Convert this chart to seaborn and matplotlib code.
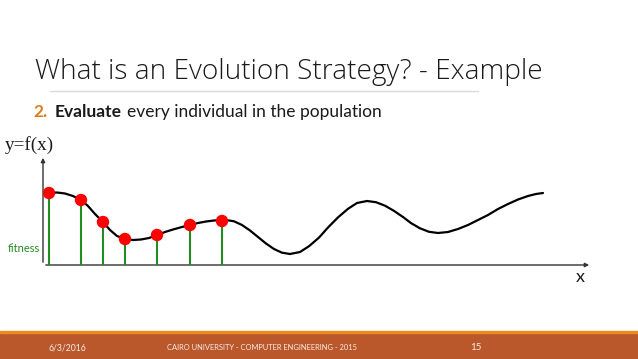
import numpy as np
import pandas as pd
import matplotlib
matplotlib.use("Agg")
import matplotlib.pyplot as plt
from matplotlib.patches import Rectangle
import seaborn as sns

# fitness curve (x from the y axis, y above the x axis)
curve_x = [6, 14, 22, 30, 38, 45, 52, 60, 67, 74, 82, 90, 98, 106, 114, 122, 130,
           139, 147, 155, 163, 171, 179, 183, 191, 199, 207, 215, 223, 231, 239,
           247, 257, 266, 276, 285, 295, 305, 314, 324, 333, 342, 351, 360, 368,
           377, 386, 395, 405, 415, 425, 435, 445, 455, 465, 475, 485, 493, 500]
curve_y = [72, 72.5, 71.5, 69, 65, 59, 51, 43, 35, 29, 26, 25, 25.5, 27, 30, 33, 35.5,
           38, 40, 42, 43.5, 44.5, 45, 45, 43.7, 40, 34.5, 28, 21.5, 16, 12.3,
           11, 13, 18.8, 27.4, 37.5, 47.6, 56.2, 62, 64, 62.8, 59.3, 54.1, 48, 41.9,
           36.7, 33.2, 32, 33, 36, 40, 45, 50, 56, 61, 65.5, 69, 71, 72]

# individuals of the population
ind_x = [6, 38, 60, 82, 114, 147, 179]
ind_y = [72, 65, 43, 26, 30, 40, 44]

W, H = 638, 359
sns.set_theme(style="white")
plt.rcParams['font.family'] = ['Lato', 'DejaVu Sans']

fig = plt.figure(figsize=(W / 100, H / 100), dpi=100)
fig.patch.set_facecolor("white")

# title + separator
fig.text(35 / W, 1 - 72 / H, "What is an Evolution Strategy? - Example",
         family="Open Sans", fontsize=20.2, fontweight="light", color="#1a1a1a",
         va="center", ha="left")
fig.add_artist(plt.Line2D([50 / W, 478 / W], [1 - 91 / H, 1 - 91 / H],
                          color="#d9d9d9", lw=1.0))

# bullet line
fig.text(33 / W, 1 - 112 / H, "2.", fontsize=12.5, fontweight="bold",
         color="#e07b1a", va="center", ha="left")
t = fig.text(55 / W, 1 - 112 / H, "Evaluate", fontsize=12.5, fontweight="bold",
             color="#1a1a1a", va="center", ha="left")
fig.canvas.draw()
bb = t.get_window_extent()
fig.text(bb.x1 / W + 5 / W, 1 - 112 / H, "every individual in the population",
         fontsize=12.5, color="#1a1a1a", va="center", ha="left")

# chart area
x0, x1, yb, yt = 43, 592, 265, 155
ax = fig.add_axes([x0 / W, 1 - yb / H, (x1 - x0) / W, (yb - yt) / H])
ax.patch.set_alpha(0)

ax.annotate("", xy=(1, 0), xytext=(0, 0), xycoords="axes fraction",
            arrowprops=dict(arrowstyle="-|>", color="#333333", lw=1.0,
                            mutation_scale=6))
ax.annotate("", xy=(0, 1), xytext=(0, 0), xycoords="axes fraction",
            arrowprops=dict(arrowstyle="-|>", color="#333333", lw=1.0,
                            mutation_scale=6))

df_curve = pd.DataFrame({"x": curve_x, "y": curve_y})
sns.lineplot(data=df_curve, x="x", y="y", ax=ax, color="black", lw=1.6,
             sort=False)
ax.vlines(ind_x, 0, ind_y, color="#228b22", lw=1.5, zorder=3)
df_ind = pd.DataFrame({"x": ind_x, "y": ind_y})
sns.scatterplot(data=df_ind, x="x", y="y", ax=ax, color="#ff0000", s=80,
                edgecolor="none", zorder=4, legend=False)
ax.set_xlim(0, x1 - x0)
ax.set_ylim(0, yb - yt)
ax.axis("off")

fig.text(5 / W, 1 - 145 / H, "y=f(x)", family="Liberation Serif", fontsize=13.8,
         color="#1a1a1a", va="center", ha="left")
fig.text(8 / W, 1 - 248 / H, "fitness", fontsize=8, color="#228b22",
         va="center", ha="left")
fig.text(580 / W, 1 - 277 / H, "x", fontsize=13, color="#1a1a1a",
         va="center", ha="center")

# footer band
fig.add_artist(Rectangle((0, 0), 1, (H - 333) / H, transform=fig.transFigure,
                         color="#ba582c", zorder=0))
fig.add_artist(Rectangle((0, (H - 333) / H), 1, 2 / H, transform=fig.transFigure,
                         color="#ec8a1c", zorder=0))
fig.text(67 / W, 1 - 348 / H, "6/3/2016", fontsize=6.2, color="#f7ebe4",
         va="center", ha="center")
fig.text(262 / W, 1 - 348 / H, "CAIRO UNIVERSITY - COMPUTER ENGINEERING - 2015",
         fontsize=5.4, color="#f7ebe4", va="center", ha="center")
fig.text(476 / W, 1 - 348 / H, "15", fontsize=7, color="#f7ebe4",
         va="center", ha="center")

fig.savefig("out.png", dpi=100)
